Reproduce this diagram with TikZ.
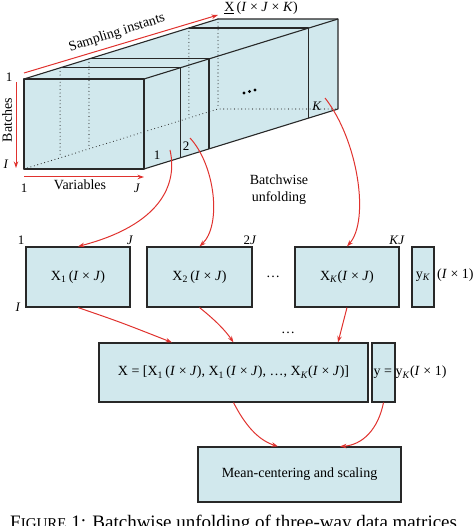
\documentclass[tikz,border=0pt]{standalone}
\usepackage{fontspec}
\setmainfont{Liberation Serif}
\usetikzlibrary{arrows.meta,calc}
\definecolor{boxfill}{RGB}{209,232,237}
\definecolor{redarrow}{RGB}{224,50,46}
\definecolor{edgecol}{RGB}{40,40,40}
\newcommand\mysub[1]{\textsubscript{#1}}
\begin{document}
\begin{tikzpicture}[x=1pt,y=-1pt,
  every node/.style={font=\fontsize{14}{17}\selectfont, inner sep=0pt, text=black},
  matbox/.style={draw=edgecol, fill=boxfill, line width=1.1pt, minimum height=60pt},
  redarr/.style={draw=redarrow, line width=1pt, -{Stealth[length=6.5pt,width=4.5pt]}},
  solidedge/.style={draw=edgecol, line width=1.1pt, line join=round},
  hidden/.style={draw=edgecol, line width=1.1pt, line cap=round, dash pattern=on 0pt off 3.6pt},
  lbl/.style={font=\fontsize{13}{15}\selectfont}
]
\clip (0,0) rectangle (474,526);

% ---------- cube ----------
\coordinate (A) at (24,79);
\coordinate (B) at (144,79);
\coordinate (C) at (144,169);
\coordinate (D) at (24,169);
\coordinate (A2) at (218,19);
\coordinate (B2) at (338,19);
\coordinate (C2) at (338,109);
\coordinate (D2) at (218,109);
\fill[boxfill] (A) -- (A2) -- (B2) -- (C2) -- (C) -- (D) -- cycle;
\draw[hidden] (D) -- (D2) -- (C2);
\draw[hidden] (A2) -- (D2);
\foreach \t in {0.186,0.335,0.85}{
  \draw[hidden] ($(A)!\t!(A2)$) -- ($(D)!\t!(D2)$);
}
\foreach \t in {0.186,0.335,0.85}{
  \draw[solidedge] ($(A)!\t!(A2)$) -- ($(B)!\t!(B2)$) -- ($(C)!\t!(C2)$);
}
\draw[solidedge] (A) -- (B) -- (C) -- (D) -- cycle;
\draw[solidedge] (A) -- (A2) -- (B2) -- (C2) -- (C);
\draw[solidedge] (B) -- (B2);

% dots inside cube
\fill[black] (244,93) circle (1.7) (249.5,91.5) circle (1.7) (255,90) circle (1.7);

% cube labels
\node[lbl] (b1) at (9,77) {1};
\node[lbl] (bI) at (6,164) {\textit{I}};
\node (batches) at (7,120) [rotate=90] {Batches};
\node[lbl] (v1) at (24,188) {1};
\node (variables) at (80,185) {Variables};
\node[lbl] (vJ) at (137,188) {\textit{J}};
\node (sampling) at (117,33) [rotate=17.5] {Sampling instants};
\node (xlabel) at (261,8) {\underline{X}\,(\textit{I} × \textit{J} × \textit{K})};
\node[lbl] (s1) at (157,155) {1};
\node[lbl] (s2) at (186,146) {2};
\node[lbl] (sK) at (317,106) {\textit{K}};
\node[align=center] (unfold) at (279,190) {Batchwise\\unfolding};

\coordinate (bt) at (16,82);
\coordinate (bb) at (16,168);
\draw[redarr] (bt) -- (bb);
\coordinate (vl) at (24,177);
\coordinate (vr) at (144,177);
\draw[redarr] (vl) -- (vr);
\coordinate (sl) at (24,73);
\coordinate (sr) at (218,15);
\draw[redarr] (sl) -- (sr);

% ---------- unfolded matrices ----------
\node[matbox, minimum width=104pt] (X1) at (78,277) {X\mysub{1}\,(\textit{I} × \textit{J})};
\node[matbox, minimum width=105pt] (X2) at (199.5,277) {X\mysub{2}\,(\textit{I} × \textit{J})};
\node[matbox, minimum width=104pt] (XK) at (347,277) {X\mysub{\textit{K}}(\textit{I} × \textit{J})};
\node[matbox, minimum width=22pt] (yK) at (423,277) {y\mysub{\textit{K}}};
\node[anchor=west] (yKdim) at (437,275) {(\textit{I} × 1)};
\node (dots1) at (273,277) {…};
\node[lbl] (l1) at (21,240) {1};
\node[lbl] (lJ) at (130,240) {\textit{J}};
\node[lbl] (l2J) at (250,240) {2\textit{J}};
\node[lbl] (lKJ) at (397,240) {\textit{K}\textit{J}};
\node[lbl] (lI) at (18,307) {\textit{I}};

% ---------- full matrix ----------
\node[matbox, minimum width=269pt, minimum height=59pt] (bigX) at (233.5,372.5)
  {X = [X\mysub{1}\,(\textit{I} × \textit{J}), X\mysub{1}\,(\textit{I} × \textit{J}), …, X\mysub{\textit{K}}(\textit{I} × \textit{J})]};
\node[matbox, minimum width=23pt, minimum height=59pt] (ybox) at (383.5,372.5) {};
\node[anchor=west] (yeq) at (373.5,372.5) {y = y\mysub{\textit{K}}(\textit{I} × 1)};
\node (dots2) at (288,333) {…};

% ---------- mean centering ----------
\node[matbox, minimum width=203pt, minimum height=55pt] (mean) at (299.5,474.5) {Mean-centering and scaling};

% ---------- red connectors ----------
\coordinate (a1) at (170,150);
\coordinate (a2) at (190,138);
\coordinate (a3) at (325,98);
\draw[redarr] (a1) .. controls (178,185) and (160,225) .. (X1.north);
\draw[redarr] (a2) .. controls (215,165) and (222,225) .. (X2.north);
\draw[redarr] (a3) .. controls (358,140) and (370,220) .. (XK.north);
\draw[redarr] (X1.south) .. controls (120,322) .. ([xshift=-61.5pt]bigX.north);
\draw[redarr] (X2.south) .. controls (215,320) and (225,330) .. (bigX.north);
\draw[redarr] (XK.south) -- ([xshift=104.5pt]bigX.north);
\draw[redarr] (bigX.south) .. controls (245,425) and (258,440) .. ([xshift=-21.5pt]mean.north);
\draw[redarr] (ybox.south) .. controls (378,430) and (362,445) .. ([xshift=40.5pt]mean.north);

% ---------- caption ----------
\node[anchor=base west, font=\fontsize{19}{21}\selectfont] (caption) at (10,528)
  {F{\fontsize{15}{17}\selectfont IGURE} 1: Batchwise unfolding of three-way data matrices};
\end{tikzpicture}
\end{document}
